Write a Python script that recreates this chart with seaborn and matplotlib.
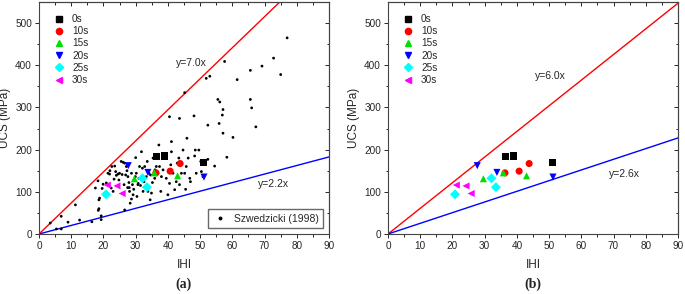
import pandas as pd
import numpy as np
import matplotlib
matplotlib.use("Agg")
import matplotlib.pyplot as plt
import seaborn as sns

# test data (same in both panels)
times = ["0s", "10s", "15s", "20s", "25s", "30s"]
ihi_0s = [36.6, 39.0, 51.0]
ucs_0s = [183, 185, 169]
ihi_10s = [36.3, 40.7, 43.8]
ucs_10s = [145, 149, 167]
ihi_15s = [29.6, 35.8, 43.0]
ucs_15s = [131, 145, 138]
ihi_20s = [27.7, 33.8, 51.2]
ucs_20s = [162, 146, 135]
ihi_25s = [20.8, 32.1, 33.5]
ucs_25s = [94, 132, 111]
ihi_30s = [21.2, 24.2, 25.8]
ucs_30s = [116, 114, 96]

# Szwedzicki (1998) data
szw_ihi = [3.5, 6.9, 6.9, 5.4, 9.0, 11.3, 12.6, 16.4, 17.5, 18.3, 18.6, 18.8, 18.6, 18.4,
           19.3, 19.3, 19.9, 20.4, 20.9, 21.4, 21.9, 22.4, 22.6, 23.0, 23.5, 23.8, 24.0,
           24.5, 25.0, 25.5, 26.1, 26.6, 26.4, 26.6, 26.9, 27.1, 27.6, 27.9, 28.1, 28.3,
           28.7, 28.7, 29.0, 29.2, 29.4, 29.7, 30.0, 30.2, 30.4, 30.7, 31.0, 31.2, 31.8,
           32.1, 32.3, 32.6, 32.8, 33.3, 33.6, 33.8, 34.1, 34.5, 34.9, 35.2, 35.4, 35.9,
           36.4, 36.9, 37.2, 37.4, 37.8, 38.0, 38.5, 38.8, 39.5, 40.0, 40.5, 40.5, 40.9,
           41.1, 41.1, 41.6, 42.1, 42.6, 42.9, 43.4, 43.6, 43.6, 44.2, 44.7, 45.2, 45.2,
           45.5, 45.7, 45.9, 46.3, 46.8, 47.0, 48.1, 48.3, 48.5, 48.8, 49.6, 50.2, 50.4,
           50.9, 51.9, 53.0, 52.4, 52.4, 54.5, 55.5, 56.1, 55.9, 56.9, 57.1, 57.1, 57.6,
           58.3, 60.2, 61.5, 65.6, 65.6, 66.0, 67.3, 69.2, 72.8, 75.0, 77.0,
           22.0, 24.8, 25.8, 27.3, 28.0, 29.9, 31.5, 34.6, 36.0, 19.6, 23.3, 30.8, 27.5]
szw_ucs = [26, 42, 12, 12, 28, 69, 33, 29, 109, 126, 81, 85, 60, 56,
           43, 34, 118, 97, 121, 144, 142, 109, 160, 101, 161, 148, 139,
           142, 144, 172, 170, 168, 117, 57, 140, 160, 136, 122, 101, 73,
           83, 144, 117, 93, 106, 128, 181, 144, 89, 117, 132, 160, 195,
           156, 101, 124, 160, 136, 172, 101, 144, 81, 97, 122, 180, 132,
           160, 144, 211, 160, 101, 136, 152, 180, 132, 93, 278, 120, 164,
           219, 195, 144, 105, 124, 168, 180, 274, 117, 144, 199, 335, 144,
           106, 160, 227, 180, 132, 124, 280, 185, 199, 144, 199, 172, 148,
           136, 369, 374, 258, 177, 161, 319, 313, 262, 282, 295, 239, 409,
           182, 229, 366, 388, 319, 299, 254, 398, 417, 378, 465,
           150, 128, 141, 150, 110, 136, 115, 140, 152, 108, 130, 120, 110]

# envelope lines: labels and slopes as drawn in the figure
labels_a = ["y=7.0x", "y=2.2x"]
slopes_a = [7.36, 2.03]
labels_b = ["y=6.0x", "y=2.6x"]
slopes_b = [6.08, 2.53]

colors = {"0s": "black", "10s": "red", "15s": "#00e000", "20s": "blue",
          "25s": "cyan", "30s": "magenta"}
markers = {"0s": "s", "10s": "o", "15s": "^", "20s": "v", "25s": "D", "30s": "<"}

test = pd.concat([
    pd.DataFrame({"IHI": ihi_0s, "UCS": ucs_0s, "time": "0s"}),
    pd.DataFrame({"IHI": ihi_10s, "UCS": ucs_10s, "time": "10s"}),
    pd.DataFrame({"IHI": ihi_15s, "UCS": ucs_15s, "time": "15s"}),
    pd.DataFrame({"IHI": ihi_20s, "UCS": ucs_20s, "time": "20s"}),
    pd.DataFrame({"IHI": ihi_25s, "UCS": ucs_25s, "time": "25s"}),
    pd.DataFrame({"IHI": ihi_30s, "UCS": ucs_30s, "time": "30s"}),
], ignore_index=True)
szw = pd.DataFrame({"IHI": szw_ihi, "UCS": szw_ucs})

sns.set_style("ticks")
plt.rcParams["font.family"] = ["Liberation Sans", "DejaVu Sans"]

fig = plt.figure(figsize=(6.85, 2.94), dpi=100)
ax1 = fig.add_axes([39 / 685, 60 / 294, 290 / 685, 232 / 294])
ax2 = fig.add_axes([388 / 685, 60 / 294, 290 / 685, 232 / 294])


def setup(ax, slopes, labels, label_pos):
    ax.axline((0, 0), slope=slopes[0], color="red", lw=1)
    ax.axline((0, 0), slope=slopes[1], color="blue", lw=1)
    for lab, (x, y) in zip(labels, label_pos):
        ax.text(x, y, lab, fontsize=7.5, va="center", ha="left")
    sns.scatterplot(data=test, x="IHI", y="UCS", hue="time", style="time",
                    palette=colors, markers=markers, s=26, edgecolor="none",
                    ax=ax, zorder=5, legend=False)
    ax.set_xlim(0, 90)
    ax.set_ylim(0, 550)
    ax.set_xticks(np.arange(0, 91, 10))
    ax.set_xticks(np.arange(5, 90, 10), minor=True)
    ax.set_yticks(np.arange(0, 501, 100))
    ax.set_yticks(np.arange(50, 550, 100), minor=True)
    ax.tick_params(which="major", length=3, width=0.7, labelsize=7.2, pad=2)
    ax.tick_params(which="minor", length=1.8, width=0.7)
    for s in ax.spines.values():
        s.set_linewidth(0.8)
        s.set_color("#444444")
    ax.set_xlabel("IHI", fontsize=8.5, labelpad=6)
    ax.set_ylabel("UCS (MPa)", fontsize=8.5, labelpad=3)
    top = ax.secondary_xaxis("top")
    top.set_xticks(np.arange(0, 91, 10))
    top.set_xticks(np.arange(5, 90, 10), minor=True)
    top.tick_params(which="major", direction="in", length=3, width=0.7, labeltop=False)
    top.tick_params(which="minor", direction="in", length=1.8, width=0.7)
    right = ax.secondary_yaxis("right")
    right.set_yticks(np.arange(0, 501, 100))
    right.set_yticks(np.arange(50, 550, 100), minor=True)
    right.tick_params(which="major", direction="in", length=3, width=0.7, labelright=False)
    right.tick_params(which="minor", direction="in", length=1.8, width=0.7)
    handles = [plt.Line2D([], [], ls="", marker=markers[t], color=colors[t], markersize=4.5)
               for t in times]
    leg = ax.legend(handles, times, loc="upper left", frameon=False, fontsize=7.2,
                    handletextpad=0.6, labelspacing=0.22, borderaxespad=0.8,
                    handlelength=1.5)
    return leg


leg1 = setup(ax1, slopes_a, labels_a, [(42.5, 405), (68, 118)])
sns.scatterplot(data=szw, x="IHI", y="UCS", color="black", s=4, edgecolor="none",
                ax=ax1, zorder=4, legend=False)
ax1.add_artist(leg1)
dot = plt.Line2D([], [], ls="", marker="o", color="black", markersize=1.8)
ax1.legend([dot], ["Szwedzicki (1998)"], loc="lower right", fontsize=7.5,
           frameon=True, fancybox=False, edgecolor="#444444", borderaxespad=0.6,
           handlelength=1.5, handletextpad=0.6, borderpad=0.4)

setup(ax2, slopes_b, labels_b, [(45.5, 375), (68.5, 142)])

fig.text(184 / 685, 10 / 294, "(a)", ha="center", va="center", fontsize=10,
         fontweight="bold", family="Liberation Serif")
fig.text(533 / 685, 10 / 294, "(b)", ha="center", va="center", fontsize=10,
         fontweight="bold", family="Liberation Serif")

fig.savefig("out.png", dpi=100)
